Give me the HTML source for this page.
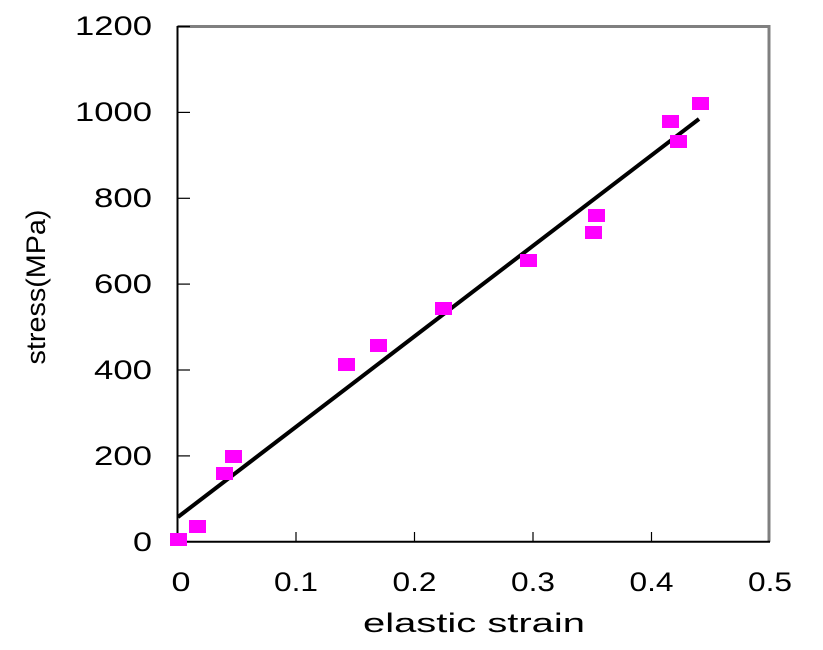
<!DOCTYPE html>
<html><head><style>body{margin:0;background:#fff}</style></head><body>
<svg width="823" height="645" xmlns="http://www.w3.org/2000/svg" font-family="Liberation Sans, sans-serif">
<rect width="823" height="645" fill="#fff"/>
<polyline points="177.5,26.5 769,26.5 769,541.7" fill="none" stroke="#808080" stroke-width="3"/>
<line x1="177.5" y1="26" x2="177.5" y2="542.5" stroke="#000" stroke-width="2"/>
<line x1="177" y1="541.7" x2="770" y2="541.7" stroke="#000" stroke-width="2"/>
<g stroke="#000" stroke-width="1.2">
<line x1="177.5" y1="26.5" x2="190" y2="26.5"/><line x1="177.5" y1="112.4" x2="190" y2="112.4"/>
<line x1="177.5" y1="198.3" x2="190" y2="198.3"/><line x1="177.5" y1="284.1" x2="190" y2="284.1"/>
<line x1="177.5" y1="370" x2="190" y2="370"/><line x1="177.5" y1="455.9" x2="190" y2="455.9"/>
<line x1="296" y1="541.7" x2="296" y2="532"/><line x1="414.5" y1="541.7" x2="414.5" y2="532"/>
<line x1="533" y1="541.7" x2="533" y2="532"/><line x1="651.5" y1="541.7" x2="651.5" y2="532"/>
</g>
<g font-size="27" text-anchor="end" fill="#000" lengthAdjust="spacingAndGlyphs">
<text x="152" y="35" textLength="77" lengthAdjust="spacingAndGlyphs">1200</text>
<text x="152" y="121" textLength="77" lengthAdjust="spacingAndGlyphs">1000</text>
<text x="152" y="207" textLength="58" lengthAdjust="spacingAndGlyphs">800</text>
<text x="152" y="293" textLength="58" lengthAdjust="spacingAndGlyphs">600</text>
<text x="152" y="379" textLength="58" lengthAdjust="spacingAndGlyphs">400</text>
<text x="152" y="465" textLength="58" lengthAdjust="spacingAndGlyphs">200</text>
<text x="152" y="551" textLength="19" lengthAdjust="spacingAndGlyphs">0</text>
</g>
<g font-size="27" text-anchor="middle" fill="#000">
<text x="181" y="591" textLength="19" lengthAdjust="spacingAndGlyphs">0</text>
<text x="296" y="591" textLength="44" lengthAdjust="spacingAndGlyphs">0.1</text>
<text x="414.5" y="591" textLength="44" lengthAdjust="spacingAndGlyphs">0.2</text>
<text x="533" y="591" textLength="44" lengthAdjust="spacingAndGlyphs">0.3</text>
<text x="651.5" y="591" textLength="44" lengthAdjust="spacingAndGlyphs">0.4</text>
<text x="770" y="591" textLength="44" lengthAdjust="spacingAndGlyphs">0.5</text>
<text x="474" y="632" textLength="222" lengthAdjust="spacingAndGlyphs">elastic strain</text>
<text transform="translate(45,287) rotate(-90)" textLength="155" lengthAdjust="spacingAndGlyphs">stress(MPa)</text>
</g>
<line x1="178" y1="517" x2="699" y2="119" stroke="#000" stroke-width="4"/>
<g fill="#ff00ff">
<rect x="170" y="533" width="17" height="13"/><rect x="189" y="520" width="17" height="13"/>
<rect x="216" y="467" width="17" height="13"/><rect x="225" y="450" width="17" height="13"/>
<rect x="338" y="358" width="17" height="13"/><rect x="370" y="339" width="17" height="13"/>
<rect x="435" y="302" width="17" height="13"/><rect x="520" y="254" width="17" height="13"/>
<rect x="585" y="226" width="17" height="13"/><rect x="588" y="209" width="17" height="13"/>
<rect x="662" y="115" width="17" height="13"/><rect x="670" y="135" width="17" height="13"/>
<rect x="692" y="97" width="17" height="13"/>
</g>
</svg>
</body></html>
